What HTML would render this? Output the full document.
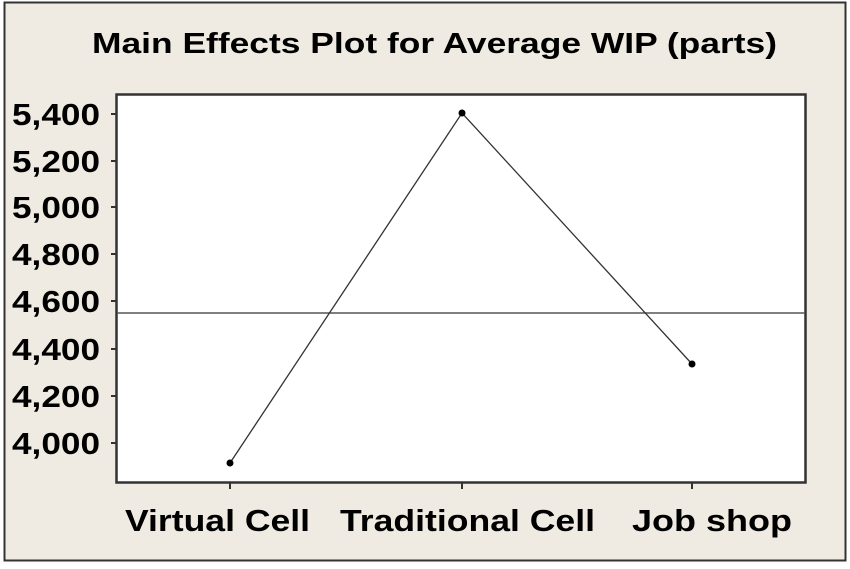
<!DOCTYPE html>
<html><head><style>
body{margin:0;width:850px;height:564px;background:#fff;overflow:hidden}
</style></head><body>
<svg width="850" height="564" xmlns="http://www.w3.org/2000/svg" font-family="Liberation Sans, Arial, sans-serif">
<rect x="0" y="0" width="850" height="564" fill="#fff"/>
<rect x="4.5" y="2.5" width="841" height="558" fill="#efebe2" stroke="#333" stroke-width="2"/>
<rect x="116.5" y="94.5" width="689" height="388" fill="#fff" stroke="#333" stroke-width="2.5"/>
<text x="92" y="53" textLength="685" lengthAdjust="spacingAndGlyphs" font-size="29" font-weight="bold" fill="#000">Main Effects Plot for Average WIP (parts)</text>
<g font-size="31" font-weight="bold" fill="#000">
<text x="12" y="125" textLength="88" lengthAdjust="spacingAndGlyphs">5,400</text>
<text x="12" y="172" textLength="88" lengthAdjust="spacingAndGlyphs">5,200</text>
<text x="12" y="218" textLength="88" lengthAdjust="spacingAndGlyphs">5,000</text>
<text x="12" y="265" textLength="88" lengthAdjust="spacingAndGlyphs">4,800</text>
<text x="12" y="312" textLength="88" lengthAdjust="spacingAndGlyphs">4,600</text>
<text x="12" y="360" textLength="88" lengthAdjust="spacingAndGlyphs">4,400</text>
<text x="12" y="407" textLength="88" lengthAdjust="spacingAndGlyphs">4,200</text>
<text x="12" y="454" textLength="88" lengthAdjust="spacingAndGlyphs">4,000</text>
</g>
<g stroke="#333" stroke-width="2">
<line x1="111" y1="114" x2="116" y2="114"/><line x1="111" y1="161" x2="116" y2="161"/>
<line x1="111" y1="207" x2="116" y2="207"/><line x1="111" y1="254" x2="116" y2="254"/>
<line x1="111" y1="301" x2="116" y2="301"/><line x1="111" y1="349" x2="116" y2="349"/>
<line x1="111" y1="396" x2="116" y2="396"/><line x1="111" y1="443" x2="116" y2="443"/>
<line x1="230" y1="483" x2="230" y2="489"/><line x1="462" y1="483" x2="462" y2="489"/><line x1="692" y1="483" x2="692" y2="489"/>
</g>
<line x1="117" y1="313" x2="805" y2="313" stroke="#555" stroke-width="1.5"/>
<polyline points="230,463 462,113 692,364" fill="none" stroke="#333" stroke-width="1.3"/>
<circle cx="230" cy="463" r="3.5" fill="#000"/><circle cx="462" cy="113" r="3.5" fill="#000"/><circle cx="692" cy="364" r="3.5" fill="#000"/>
<g font-size="31" font-weight="bold" fill="#000">
<text x="125" y="531" textLength="185" lengthAdjust="spacingAndGlyphs">Virtual Cell</text>
<text x="340" y="531" textLength="255" lengthAdjust="spacingAndGlyphs">Traditional Cell</text>
<text x="632" y="531" textLength="160" lengthAdjust="spacingAndGlyphs">Job shop</text>
</g>
</svg>
</body></html>
